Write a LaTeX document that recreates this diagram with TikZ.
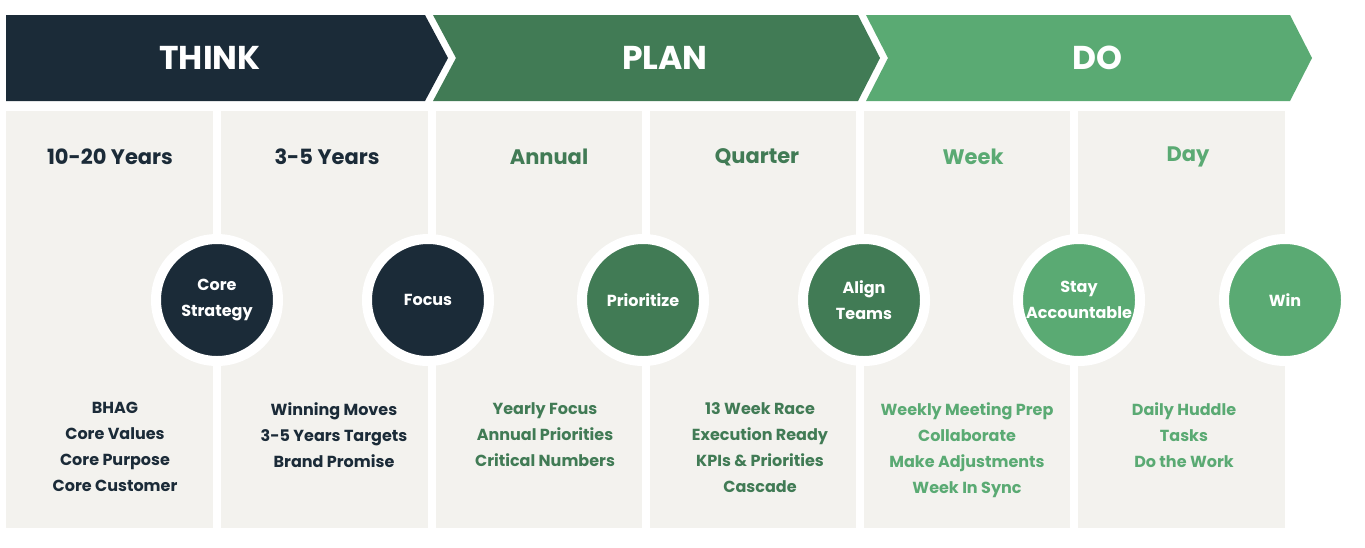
\documentclass[tikz,border=0pt]{standalone}
\usepackage{fontspec}
\setmainfont{Poppins}
\definecolor{navy}{HTML}{1B2B38}
\definecolor{mgreen}{HTML}{417B55}
\definecolor{lgreen}{HTML}{5AAA73}
\definecolor{panel}{HTML}{F3F2EE}
\begin{document}
\begin{tikzpicture}[x=1pt,y=-1pt,
  head/.style={font=\fontsize{21}{25}\selectfont\bfseries},
  body/.style={font=\fontsize{16}{26}\selectfont\bfseries,align=center,anchor=north},
  circ/.style={circle,minimum size=122pt,inner sep=0pt,draw=white,line width=10pt,text=white,align=center,font=\fontsize{16}{26}\selectfont\bfseries},
  band/.style={font=\fontsize{33}{38}\selectfont\bfseries,text=white}]
\useasboundingbox (0,0) rectangle (1365,547);
\fill[white] (0,0) rectangle (1365,547);
% panels
\foreach \a/\b [count=\i] in {6/213,221/428,436/642,650/856,864/1070,1078/1285}
  \fill[panel] (\a,111) rectangle (\b,528);
% bands
\fill[navy] (6,15) -- (425,15) -- (448,58) -- (425,101) -- (6,101) -- cycle;
\fill[mgreen] (433,15) -- (858,15) -- (880,58) -- (858,101) -- (433,101) -- (456,58) -- cycle;
\fill[lgreen] (866,15) -- (1290,15) -- (1312,58) -- (1290,101) -- (866,101) -- (888,58) -- cycle;
\node[band] (think) at (210,58) {THINK};
\node[band] (plan) at (665,58) {PLAN};
\node[band] (do) at (1097,58) {DO};
% headings
\node[head,text=navy] (h1) at (110,157) {10-20 Years};
\node[head,text=navy] (h2) at (327,157) {3-5 Years};
\node[head,text=mgreen] (h3) at (549,157) {Annual};
\node[head,text=mgreen] (h4) at (757,157) {Quarter};
\node[head,text=lgreen] (h5) at (973,157) {Week};
\node[head,text=lgreen] (h6) at (1188,157) {Day};
% circles
\node[circ,fill=navy] (c1) at (217,300) {Core\\Strategy};
\node[circ,fill=navy] (c2) at (428,300) {Focus};
\node[circ,fill=mgreen] (c3) at (643,300) {Prioritize};
\node[circ,fill=mgreen] (c4) at (864,300) {Align\\Teams};
\node[circ,fill=lgreen] (c5) at (1079,300) {Stay\\Accountable};
\node[circ,fill=lgreen] (c6) at (1285,300) {Win};
% body
\node[body,text=navy] (b1) at (115,399) {BHAG\\Core Values\\Core Purpose\\Core Customer};
\node[body,text=navy] (b2) at (334,399) {Winning Moves\\3-5 Years Targets\\Brand Promise};
\node[body,text=mgreen] (b3) at (545,399) {Yearly Focus\\Annual Priorities\\Critical Numbers};
\node[body,text=mgreen] (b4) at (760,399) {13 Week Race\\Execution Ready\\KPIs \& Priorities\\Cascade};
\node[body,text=lgreen] (b5) at (967,399) {Weekly Meeting Prep\\Collaborate\\Make Adjustments\\Week In Sync};
\node[body,text=lgreen] (b6) at (1184,399) {Daily Huddle\\Tasks\\Do the Work};
\end{tikzpicture}
\end{document}
